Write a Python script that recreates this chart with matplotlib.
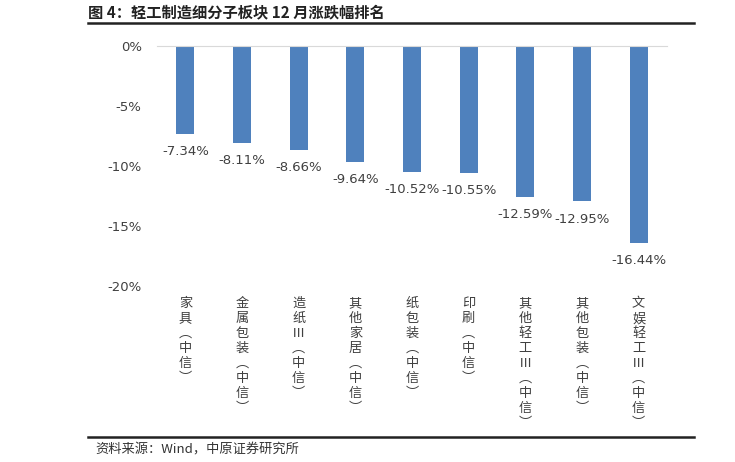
import numpy as np
import matplotlib.pyplot as plt
from matplotlib.lines import Line2D

plt.rcParams['font.family'] = ['Noto Sans CJK SC', 'DejaVu Sans']

# categories (vertical text) and values in %
categories = ['家具(中信)', '金属包装(中信)', '造纸Ⅲ(中信)', '其他家居(中信)', '纸包装(中信)',
              '印刷(中信)', '其他轻工Ⅲ(中信)', '其他包装(中信)', '文娱轻工Ⅲ(中信)']
values = [-7.34, -8.11, -8.66, -9.64, -10.52, -10.55, -12.59, -12.95, -16.44]
yticks = [0, -5, -10, -15, -20]

def vertical(s):
    s = s.replace('(', '︵').replace(')', '︶')
    return '\n'.join(s)

fig = plt.figure(figsize=(7.35, 4.62), dpi=100)
ax = fig.add_axes([0.2136, 0.381, 0.6939, 0.5194])

x = np.arange(len(values))
bars = ax.bar(x, values, width=0.32, color='#4F81BD')

for xi, v in zip(x, values):
    ax.annotate('%.2f%%' % v, (xi, v), xytext=(0, -8), textcoords='offset points',
                ha='center', va='top', fontsize=9.5, color='#404040',
                family=['DejaVu Sans'])

ax.set_xlim(-0.5, len(values) - 0.5)
ax.set_ylim(-20, 0)
ax.set_yticks(yticks)
ax.set_yticklabels(['%d%%' % t for t in yticks], fontsize=9.5, color='#404040',
                   family=['DejaVu Sans'])
ax.tick_params(axis='y', length=0, pad=11)
ax.tick_params(axis='x', length=0)
ax.set_xticks([])
for sp in ['left', 'right', 'bottom']:
    ax.spines[sp].set_visible(False)
ax.spines['top'].set_color('#D9D9D9')

for xi, c in zip(x, categories):
    ax.annotate(vertical(c), (xi, -20), xytext=(0, -8), textcoords='offset points',
                ha='center', va='top', fontsize=9.5, color='#404040',
                linespacing=1.2)

# title, rules and source
fig.text(0.120, 0.973, '图 4：轻工制造细分子板块 12 月涨跌幅排名', fontsize=11,
         fontweight='bold', ha='left', va='center', color='#222222')
fig.add_artist(Line2D([0.120, 0.944], [0.950, 0.950], color='#222222', lw=1.8))
fig.add_artist(Line2D([0.120, 0.944], [0.054, 0.054], color='#222222', lw=1.8))
fig.text(0.130, 0.025, '资料来源：Wind，中原证券研究所', fontsize=9.5,
         ha='left', va='center', color='#333333')

fig.savefig('out.png', dpi=100)
